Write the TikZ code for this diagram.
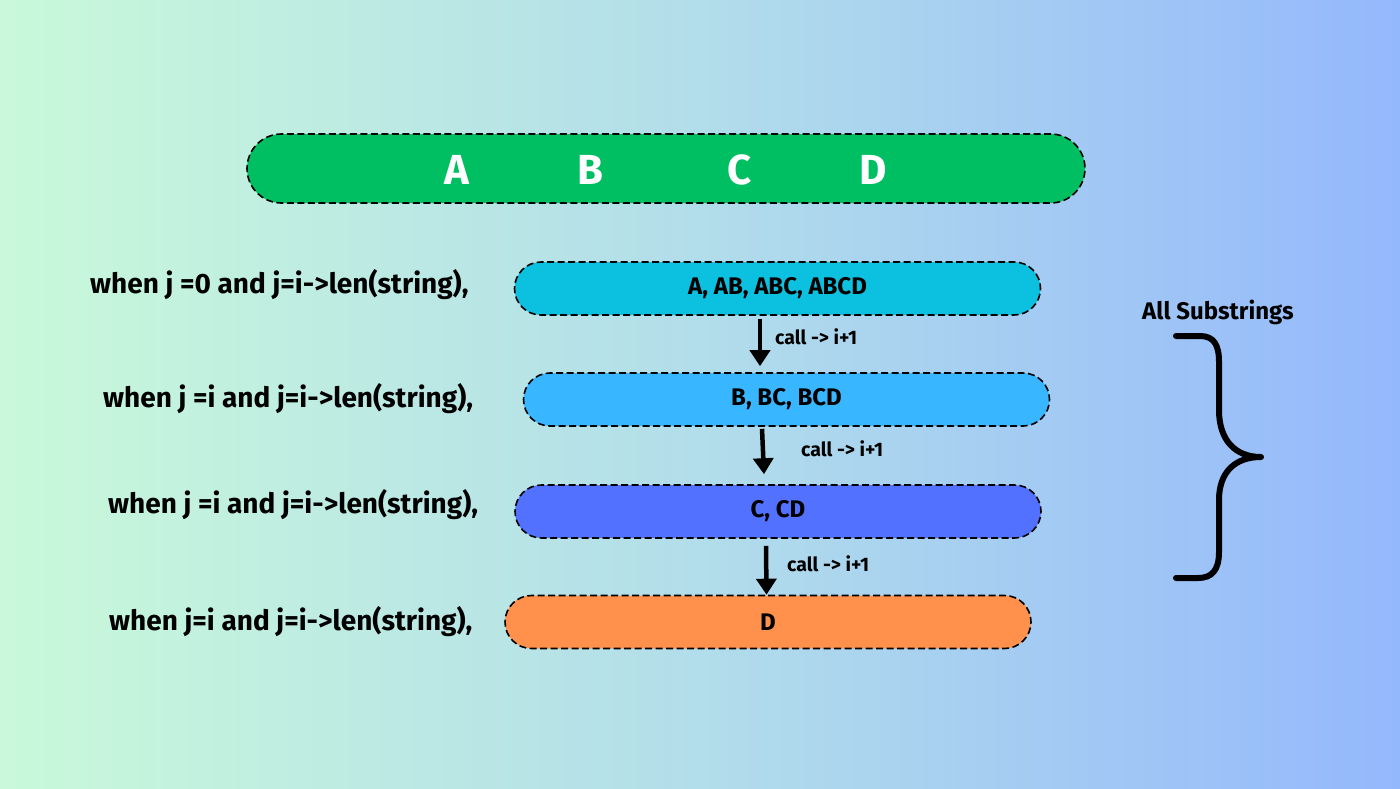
\documentclass[tikz,border=0pt]{standalone}
\usepackage{fontspec}
\setmainfont{Fira Sans}
\usetikzlibrary{shapes.misc,arrows.meta}
\definecolor{bgL}{HTML}{C9F9DA}
\definecolor{bgM}{HTML}{B2DDEA}
\definecolor{bgR}{HTML}{94B8FC}
\definecolor{cgreen}{HTML}{00BF63}
\definecolor{cone}{HTML}{0CC0DF}
\definecolor{ctwo}{HTML}{38B6FF}
\definecolor{cthree}{HTML}{5271FF}
\definecolor{cfour}{HTML}{FF914D}
\tikzset{
  pill/.style={rounded rectangle, draw=black, line width=1.6pt, dash pattern=on 7pt off 3.5pt,
    minimum height=53pt, minimum width=526pt, inner sep=0pt, font=\bfseries\fontsize{24}{28}\selectfont},
  lefttext/.style={anchor=west, inner sep=0pt, font=\bfseries\fontsize{28}{32}\selectfont},
  calltext/.style={anchor=west, inner sep=0pt, font=\bfseries\fontsize{19.5}{23}\selectfont},
  bigletter/.style={text=white, inner sep=0pt, font=\bfseries\fontsize{42}{48}\selectfont},
  callarrow/.style={line width=4.5pt, -{Triangle[length=16pt,width=20pt]}},
}
\begin{document}
\begin{tikzpicture}[x=1pt,y=-1pt]
\useasboundingbox (0,0) rectangle (1400,788);
\shade[left color=bgL, right color=bgR, middle color=bgM] (0,0) rectangle (1400,788);
% top bar
\node[rounded rectangle, draw=black, fill=cgreen, line width=1.6pt, dash pattern=on 7pt off 3.5pt,
  minimum width=838pt, minimum height=69pt, inner sep=0pt] (bar) at (666,168.5) {};
\node[bigletter] (la) at (457,170) {A};
\node[bigletter] (lb) at (590,170) {B};
\node[bigletter] (lc) at (740,170) {C};
\node[bigletter] (ld) at (873,170) {D};
% boxes
\node[pill, fill=cone] (b1) at (777.5,288.5) {A, AB, ABC, ABCD};
\node[pill, fill=ctwo] (b2) at (786.5,399.5) {B, BC, BCD};
\node[pill, fill=cthree] (b3) at (778,511.5) {C, CD};
\node[pill, fill=cfour] (b4) at (768,622) {D};
% left texts
\node[lefttext] (t1) at (90,285) {when j =0 and j=i->len(string),};
\node[lefttext] (t2) at (103,399) {when j =i and j=i->len(string),};
\node[lefttext] (t3) at (108,505) {when j =i and j=i->len(string),};
\node[lefttext] (t4) at (109,622) {when j=i and j=i->len(string),};
% arrows
\draw[callarrow] ([xshift=-17.5pt,yshift=-3pt]b1.south) -- ([xshift=-26.5pt,yshift=6pt]b2.north);
\draw[callarrow] ([xshift=-24.5pt,yshift=-2pt]b2.south) -- ([xshift=-14pt,yshift=10pt]b3.north);
\draw[callarrow] ([xshift=-12pt,yshift=-7pt]b3.south) -- ([xshift=-1.5pt,yshift=0pt]b4.north);
\node[calltext] (c1) at (775,337) {call -> i+1};
\node[calltext] (c2) at (801,449) {call -> i+1};
\node[calltext] (c3) at (787,564) {call -> i+1};
% brace
\node[inner sep=0pt, font=\bfseries\fontsize{24}{28}\selectfont] (all) at (1218,312) {All Substrings};
\draw[line width=6pt, line cap=round, line join=round]
  (1176,336) -- (1200,336)
  .. controls (1214,336) and (1219,345) .. (1219,362)
  -- (1219,410)
  .. controls (1219,440) and (1235,457) .. (1261,457)
  .. controls (1235,457) and (1219,472) .. (1219,500)
  -- (1219,552)
  .. controls (1219,570) and (1212,578) .. (1198,578)
  -- (1176,578);
\end{tikzpicture}
\end{document}
